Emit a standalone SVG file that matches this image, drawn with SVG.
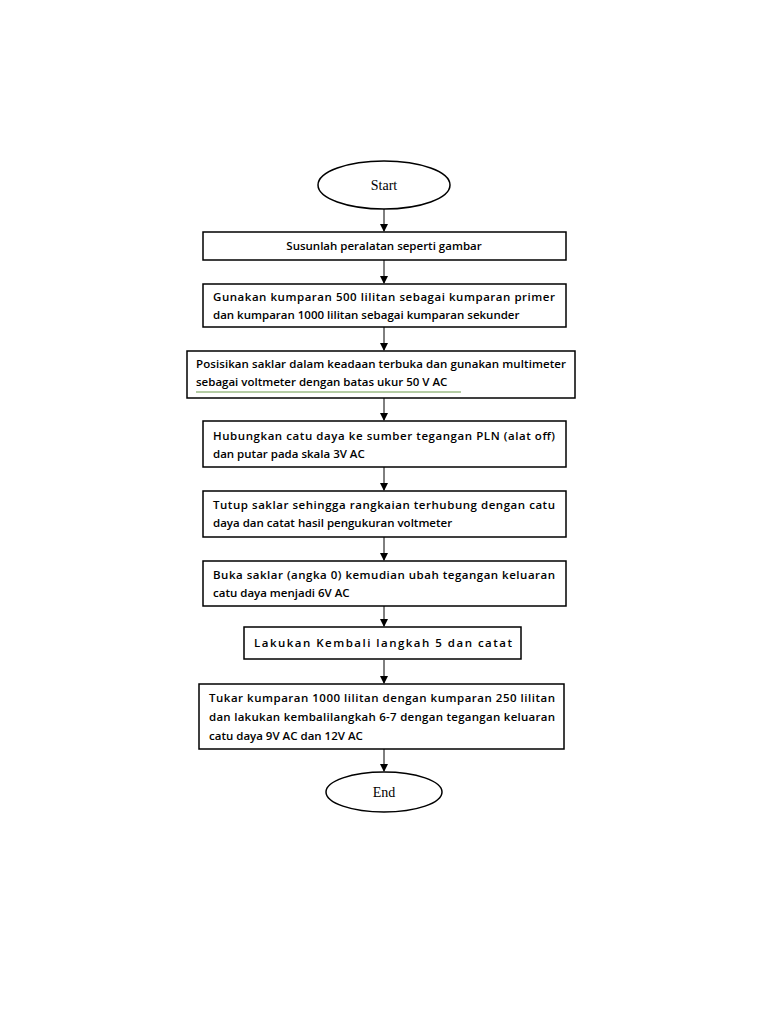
<svg xmlns="http://www.w3.org/2000/svg" width="768" height="1024" viewBox="0 0 768 1024">
<style>
.b{fill:#fff;stroke:#000;stroke-width:1.5}
.t{font-family:"Open Sans","Liberation Sans",sans-serif;font-size:11.5px;font-weight:600;fill:#000}
.s{font-family:"Liberation Serif",serif;font-size:14px;fill:#000}
.c line{stroke:#000;stroke-width:1}
</style>
<defs><marker id="a" markerWidth="8" markerHeight="8" refX="7" refY="4" orient="auto" markerUnits="userSpaceOnUse"><path d="M0,0 L8,4 L0,8 z" fill="#000"/></marker></defs>
<rect width="768" height="1024" fill="#fff"/>
<g class="c">
<line x1="384" y1="209" x2="384" y2="231" marker-end="url(#a)"/>
<line x1="384" y1="260" x2="384" y2="283" marker-end="url(#a)"/>
<line x1="384" y1="327" x2="384" y2="350" marker-end="url(#a)"/>
<line x1="384" y1="398" x2="384" y2="420" marker-end="url(#a)"/>
<line x1="384" y1="467" x2="384" y2="490" marker-end="url(#a)"/>
<line x1="384" y1="537" x2="384" y2="560" marker-end="url(#a)"/>
<line x1="384" y1="606" x2="384" y2="626" marker-end="url(#a)"/>
<line x1="384" y1="660" x2="384" y2="683" marker-end="url(#a)"/>
<line x1="384" y1="749" x2="384" y2="771" marker-end="url(#a)"/>
</g>
<g id="start"><ellipse cx="384" cy="185" rx="66" ry="24" class="b" stroke-width="1"/><text x="384" y="190" text-anchor="middle" class="s">Start</text></g>
<g id="n1"><rect x="203" y="232" width="363" height="28" class="b"/><text x="384" y="250" text-anchor="middle" class="t">Susunlah peralatan seperti gambar</text></g>
<g id="n2"><rect x="203" y="284" width="363" height="43" class="b"/>
<text x="213" y="301" class="t" textLength="342" lengthAdjust="spacing">Gunakan kumparan 500 lilitan sebagai kumparan primer</text>
<text x="213" y="319" class="t">dan kumparan 1000 lilitan sebagai kumparan sekunder</text></g>
<g id="n3"><rect x="187" y="351" width="388" height="47" class="b" stroke-width="2"/>
<text x="196" y="368" class="t" textLength="370" lengthAdjust="spacing">Posisikan saklar dalam keadaan terbuka dan gunakan multimeter</text>
<text x="196" y="386" class="t">sebagai voltmeter dengan batas ukur 50 V AC</text>
<line x1="196" y1="392" x2="461" y2="392" stroke="#6a9a4a" stroke-width="1"/></g>
<g id="n4"><rect x="203" y="421" width="363" height="46" class="b"/>
<text x="213" y="440" class="t" textLength="342" lengthAdjust="spacing">Hubungkan catu daya ke sumber tegangan PLN (alat off)</text>
<text x="213" y="458" class="t">dan putar pada skala 3V AC</text></g>
<g id="n5"><rect x="203" y="491" width="363" height="46" class="b"/>
<text x="213" y="509" class="t" textLength="342" lengthAdjust="spacing">Tutup saklar sehingga rangkaian terhubung dengan catu</text>
<text x="213" y="527" class="t">daya dan catat hasil pengukuran voltmeter</text></g>
<g id="n6"><rect x="203" y="561" width="363" height="45" class="b"/>
<text x="213" y="579" class="t" textLength="342" lengthAdjust="spacing">Buka saklar (angka 0) kemudian ubah tegangan keluaran</text>
<text x="213" y="597" class="t">catu daya menjadi 6V AC</text></g>
<g id="n7"><rect x="244" y="627" width="277" height="32" class="b"/>
<text x="254" y="647" class="t" textLength="258" lengthAdjust="spacing">Lakukan Kembali langkah 5 dan catat</text></g>
<g id="n8"><rect x="199" y="684" width="365" height="65" class="b"/>
<text x="209" y="702" class="t" textLength="346" lengthAdjust="spacing">Tukar kumparan 1000 lilitan dengan kumparan 250 lilitan</text>
<text x="209" y="721" class="t" textLength="346" lengthAdjust="spacing">dan lakukan kembalilangkah 6-7 dengan tegangan keluaran</text>
<text x="209" y="740" class="t">catu daya 9V AC dan 12V AC</text></g>
<g id="end"><ellipse cx="384" cy="792" rx="58" ry="20" class="b" stroke-width="1"/><text x="384" y="797" text-anchor="middle" class="s">End</text></g>
</svg>
